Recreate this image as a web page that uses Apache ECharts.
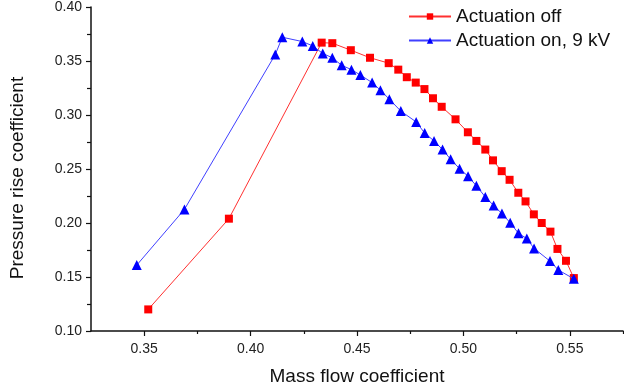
<!DOCTYPE html>
<html>
<head>
<meta charset="utf-8">
<script src="https://cdn.jsdelivr.net/npm/echarts@6/dist/echarts.min.js"></script>
<style>
html,body{margin:0;padding:0;background:#fff;}
#chart{width:624px;height:391px;}
</style>
</head>
<body>
<div id="chart"></div>
<script>
// Data
const seriesNames = ['Actuation off', 'Actuation on, 9 kV'];
const xOff = [0.3519, 0.3898, 0.4334, 0.4384, 0.4471, 0.4561, 0.4649, 0.4694, 0.4734, 0.4776, 0.4817, 0.4857, 0.4898, 0.4963, 0.5021, 0.5061, 0.5103, 0.5139, 0.5180, 0.5217, 0.5258, 0.5292, 0.5331, 0.5368, 0.5409, 0.5442, 0.5482, 0.5519];
const yOff = [0.120, 0.204, 0.367, 0.3665, 0.360, 0.353, 0.348, 0.342, 0.335, 0.330, 0.324, 0.3155, 0.3076, 0.296, 0.284, 0.276, 0.268, 0.258, 0.248, 0.240, 0.228, 0.220, 0.208, 0.200, 0.192, 0.176, 0.165, 0.149];
const xOn = [0.3465, 0.3689, 0.4116, 0.4149, 0.4243, 0.4292, 0.4339, 0.4384, 0.4428, 0.4474, 0.4516, 0.4571, 0.4610, 0.4652, 0.4706, 0.4778, 0.4818, 0.4862, 0.4902, 0.4940, 0.4982, 0.5022, 0.5061, 0.5103, 0.5142, 0.5181, 0.5220, 0.5259, 0.5298, 0.5332, 0.5407, 0.5446, 0.5519];
const yOn = [0.161, 0.2126, 0.356, 0.372, 0.368, 0.364, 0.357, 0.353, 0.346, 0.342, 0.337, 0.330, 0.323, 0.3146, 0.3036, 0.2936, 0.2833, 0.276, 0.268, 0.259, 0.2503, 0.2433, 0.2344, 0.2241, 0.2162, 0.2087, 0.2002, 0.1904, 0.1856, 0.1765, 0.1647, 0.1565, 0.1483];
const xMajorTicks = [0.35, 0.40, 0.45, 0.50, 0.55];
const xMinorTicks = [0.375, 0.425, 0.475, 0.525, 0.575];
const yTicks = [0.10, 0.15, 0.20, 0.25, 0.30, 0.35, 0.40];

const FONT = "'Liberation Sans', Arial, sans-serif";
const chart = echarts.init(document.getElementById('chart'), null, {renderer: 'canvas'});
const pairs = (xs, ys) => xs.map((x, i) => [x, ys[i]]);

chart.setOption({
  animation: false,
  backgroundColor: '#ffffff',
  grid: {left: 87, right: 1, top: 6, bottom: 56},
  legend: {
    orient: 'vertical',
    left: 403,
    top: 2,
    itemWidth: 42,
    itemHeight: 8,
    itemGap: 5,
    itemTextGap: 7,
    textStyle: {fontFamily: FONT, fontSize: 19, color: '#111', lineHeight: 19},
    data: seriesNames
  },
  xAxis: [{
    type: 'value',
    min: 0.325,
    max: 0.575,
    name: 'Mass flow coefficient',
    nameLocation: 'middle',
    nameGap: 36,
    nameTextStyle: {fontFamily: FONT, fontSize: 19, color: '#111'},
    axisLine: {show: true, lineStyle: {color: '#111', width: 1.5}},
    axisTick: {show: true, inside: false, length: 5, lineStyle: {color: '#111', width: 1.2}, customValues: xMajorTicks},
    axisLabel: {fontFamily: FONT, fontSize: 14, color: '#222', margin: 11, customValues: xMajorTicks, formatter: v => v.toFixed(2)},
    splitLine: {show: false}
  }, {
    type: 'value',
    min: 0.325,
    max: 0.575,
    position: 'bottom',
    offset: 0,
    axisLine: {show: false},
    axisTick: {show: true, inside: false, length: 3, lineStyle: {color: '#111', width: 1.2}, customValues: xMinorTicks},
    axisLabel: {show: false},
    splitLine: {show: false}
  }],
  yAxis: {
    type: 'value',
    min: 0.10,
    max: 0.40,
    interval: 0.05,
    name: 'Pressure rise coefficient',
    nameLocation: 'middle',
    nameGap: 64,
    nameTextStyle: {fontFamily: FONT, fontSize: 19, color: '#111', padding: [0, 18, 0, 0]},
    axisLine: {show: true, lineStyle: {color: '#111', width: 1.5}},
    axisTick: {show: true, inside: false, length: 5, lineStyle: {color: '#111', width: 1.2}},
    minorTick: {show: true, splitNumber: 2, length: 4, lineStyle: {color: '#111', width: 1.2}},
    axisLabel: {fontFamily: FONT, fontSize: 14, color: '#222', margin: 9, formatter: v => v.toFixed(2)},
    splitLine: {show: false},
    minorSplitLine: {show: false}
  },
  series: [{
    name: seriesNames[0],
    type: 'line',
    xAxisIndex: 0,
    data: pairs(xOff, yOff),
    symbol: 'rect',
    symbolSize: 8,
    itemStyle: {color: '#ff0000'},
    lineStyle: {color: '#ff3030', width: 1},
    z: 3
  }, {
    name: seriesNames[1],
    type: 'line',
    xAxisIndex: 0,
    data: pairs(xOn, yOn),
    symbol: 'triangle',
    symbolSize: 10,
    itemStyle: {color: '#0000ff'},
    lineStyle: {color: '#4040ff', width: 1},
    z: 4
  }]
});
</script>
</body>
</html>
